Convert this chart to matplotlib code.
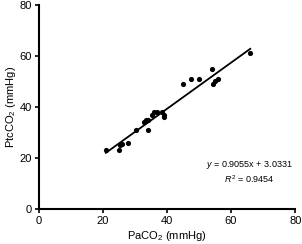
import matplotlib.pyplot as plt
import numpy as np

plt.rcParams['font.family'] = ['Liberation Sans', 'DejaVu Sans']
plt.rcParams['mathtext.fontset'] = 'custom'
plt.rcParams['mathtext.rm'] = 'Liberation Sans'
plt.rcParams['mathtext.it'] = 'Liberation Sans:italic'

paco2 = [21, 25, 25.5, 26, 28, 30.5, 34, 33, 33.5, 34, 35.5, 36, 37, 38.5, 39, 39,
         45, 47.5, 50, 54, 54.5, 55, 56, 66]
ptcco2 = [23, 23, 25, 25.5, 26, 31, 31, 34, 35, 35, 37, 38, 38, 38, 37, 36,
          49, 51, 51, 55, 49, 50, 51, 61]
slope = 0.9055
intercept = 3.0331
r2 = 0.9454

fig = plt.figure(figsize=(3.02, 2.44), dpi=100)
ax = fig.add_axes([0.1275, 0.143, 0.85, 0.837])

ax.scatter(paco2, ptcco2, s=14, color='black', zorder=3, linewidths=0)
xs = np.array([min(paco2), max(paco2)])
ax.plot(xs, slope * xs + intercept, color='black', lw=1.3)

ax.set_xlim(0, 80)
ax.set_ylim(0, 80)
ax.set_xticks([0, 20, 40, 60, 80])
ax.set_yticks([0, 20, 40, 60, 80])
for s in ['top', 'right']:
    ax.spines[s].set_visible(False)
for s in ['left', 'bottom']:
    ax.spines[s].set_linewidth(1.5)
ax.tick_params(width=1.2, length=3, labelsize=8, pad=2)

ax.set_xlabel('PaCO$_2$ (mmHg)', fontsize=8, labelpad=2)
ax.set_ylabel('PtcCO$_2$ (mmHg)', fontsize=8, labelpad=1)

ax.text(65.8, 17.3, '$y$ = %.4fx + %.4f' % (slope, intercept), ha='center', va='center', fontsize=6.5)
ax.text(65.8, 11.8, '$R^2$ = %.4f' % r2, ha='center', va='center', fontsize=6.5)

fig.savefig('out.png', dpi=100)
